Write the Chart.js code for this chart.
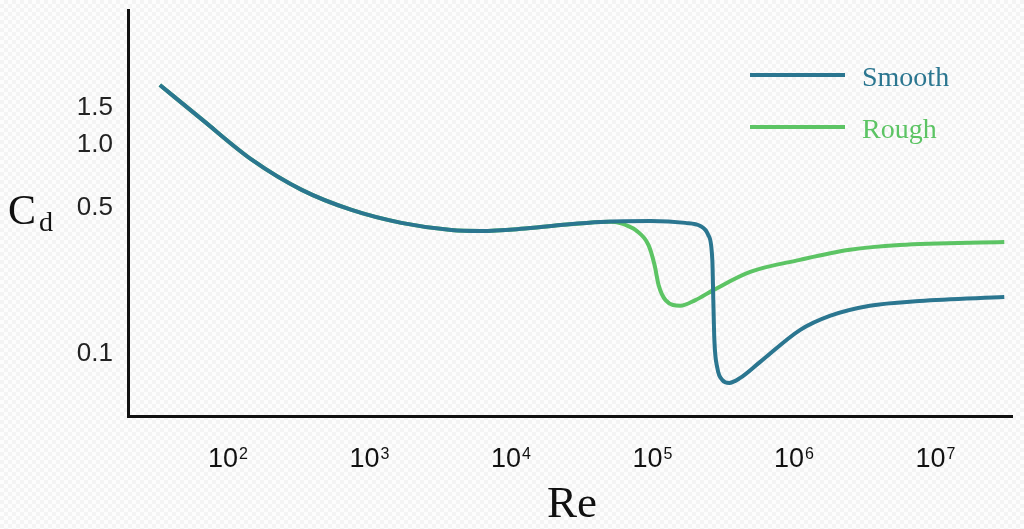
<!DOCTYPE html>
<html>
<head>
  <title>Drag coefficient vs Reynolds number</title>
  <script src="https://cdn.jsdelivr.net/npm/chart.js"></script>
  <style>
    body {
      margin: 0;
      background-color: #fdfdfd;
      background-image: repeating-conic-gradient(#f4f4f4 0 25%, #fdfdfd 0 50%);
      background-size: 8px 8px;
    }
  </style>
</head>
<body>
  <canvas id="dragChart" width="1024" height="529"></canvas>

  <script>
    // Smooth sphere
    const smoothRe = [33, 66, 148, 332, 747, 1680, 3780, 6150, 11750, 22500, 43000, 96800,
      170700, 217600, 247700, 264600, 268900, 273500, 287000, 311400, 348600, 417000,
      576700, 1.10e6, 1.79e6, 3.43e6, 7.71e6, 3.06e7];
    const smoothCd = [1.94, 1.32, 0.849, 0.610, 0.489, 0.424, 0.392, 0.388, 0.397, 0.414, 0.428, 0.433,
      0.424, 0.410, 0.371, 0.282, 0.181, 0.117, 0.0857, 0.075, 0.0726, 0.0767,
      0.0915, 0.130, 0.152, 0.170, 0.179, 0.187];

    // Rough sphere (same as smooth until it drops early)
    const roughRe = [33, 66, 148, 332, 747, 1680, 3780, 6150, 11750, 22500, 43000,
      50000, 60000, 68000, 75900, 93700, 103300, 110300, 123600, 157500, 200900, 268900, 490000,
      1.10e6, 2.48e6, 5.57e6, 3.06e7];
    const roughCd = [1.94, 1.32, 0.849, 0.610, 0.489, 0.424, 0.392, 0.388, 0.397, 0.414, 0.428,
      0.429, 0.422, 0.408, 0.392, 0.332, 0.267, 0.214, 0.181, 0.170, 0.181, 0.202, 0.247,
      0.282, 0.315, 0.332, 0.343];

    const xTicks = [1e2, 1e3, 1e4, 1e5, 1e6, 1e7];
    const yTicks = [0.1, 0.5, 1.0, 1.5];

    function toPoints(xs, ys) {
      return xs.map((x, i) => ({ x: x, y: ys[i] }));
    }

    // legend in the corner, axis titles and the 10^n labels (need a real superscript)
    const extras = {
      id: 'extras',
      afterDraw(chart) {
        const ctx = chart.ctx;
        ctx.save();
        ctx.textBaseline = 'alphabetic';
        chart.data.datasets.forEach((ds, i) => {
          const y = 75 + i * 52;
          ctx.strokeStyle = ds.borderColor;
          ctx.lineWidth = 4;
          ctx.beginPath();
          ctx.moveTo(750, y);
          ctx.lineTo(845, y);
          ctx.stroke();
          ctx.fillStyle = ds.borderColor;
          ctx.font = '28px "Liberation Serif"';
          ctx.fillText(ds.label, 862, y + 11);
        });

        const xs = chart.scales.x;
        ctx.fillStyle = '#111';
        xs.ticks.forEach(t => {
          const px = xs.getPixelForValue(t.value);
          const exp = String(Math.round(Math.log10(t.value)));
          ctx.font = '27px "Liberation Sans"';
          const w1 = ctx.measureText('10').width;
          ctx.font = '16px "Liberation Sans"';
          const w2 = ctx.measureText(exp).width;
          const left = px - (w1 + w2 + 1) / 2;
          ctx.font = '27px "Liberation Sans"';
          ctx.fillText('10', left, 467);
          ctx.font = '16px "Liberation Sans"';
          ctx.fillText(exp, left + w1 + 1, 458.5);
        });

        ctx.font = '42px "Liberation Serif"';
        ctx.fillText('C', 8, 224);
        ctx.font = '28px "Liberation Serif"';
        ctx.fillText('d', 39, 231);
        ctx.font = '45px "Liberation Serif"';
        ctx.fillText('Re', 547, 517);
        ctx.restore();
      }
    };

    const ctx = document.getElementById('dragChart').getContext('2d');
    new Chart(ctx, {
      type: 'line',
      data: {
        datasets: [
          {
            label: 'Smooth',
            data: toPoints(smoothRe, smoothCd),
            borderColor: '#2b7690',
            borderWidth: 4,
            pointRadius: 0,
            cubicInterpolationMode: 'monotone',
            fill: false
          },
          {
            label: 'Rough',
            data: toPoints(roughRe, roughCd),
            borderColor: '#5cc464',
            borderWidth: 4,
            pointRadius: 0,
            cubicInterpolationMode: 'monotone',
            fill: false
          }
        ]
      },
      options: {
        responsive: false,
        animation: false,
        layout: { padding: { top: 10, right: 12, left: 0, bottom: 0 } },
        plugins: {
          legend: { display: false },
          tooltip: { enabled: false }
        },
        scales: {
          x: {
            type: 'logarithmic',
            min: 19.65,
            max: 3.47e7,
            grid: { display: false, drawTicks: false },
            border: { display: true, color: '#111', width: 3 },
            afterFit: (scale) => {
              scale.height = 113;
              scale.paddingLeft = 0;
              scale.paddingRight = 0;
            },
            afterBuildTicks: (scale) => { scale.ticks = xTicks.map(v => ({ value: v })); },
            ticks: {
              padding: 30,
              color: 'rgba(0,0,0,0)',   // drawn by the extras plugin
              font: { family: '"Liberation Sans"', size: 27 },
              maxRotation: 0
            }
          },
          y: {
            type: 'logarithmic',
            min: 0.0504,
            max: 4.436,
            grid: { display: false, drawTicks: false },
            border: { display: true, color: '#111', width: 3 },
            afterFit: (scale) => {
              scale.width = 128;
              scale.paddingTop = 0;
              scale.paddingBottom = 0;
            },
            afterBuildTicks: (scale) => { scale.ticks = yTicks.map(v => ({ value: v })); },
            ticks: {
              padding: 15,
              color: '#222',
              font: { family: '"Liberation Sans"', size: 26 },
              callback: (v) => v.toFixed(1)
            }
          }
        }
      },
      plugins: [extras]
    });
  </script>
</body>
</html>
